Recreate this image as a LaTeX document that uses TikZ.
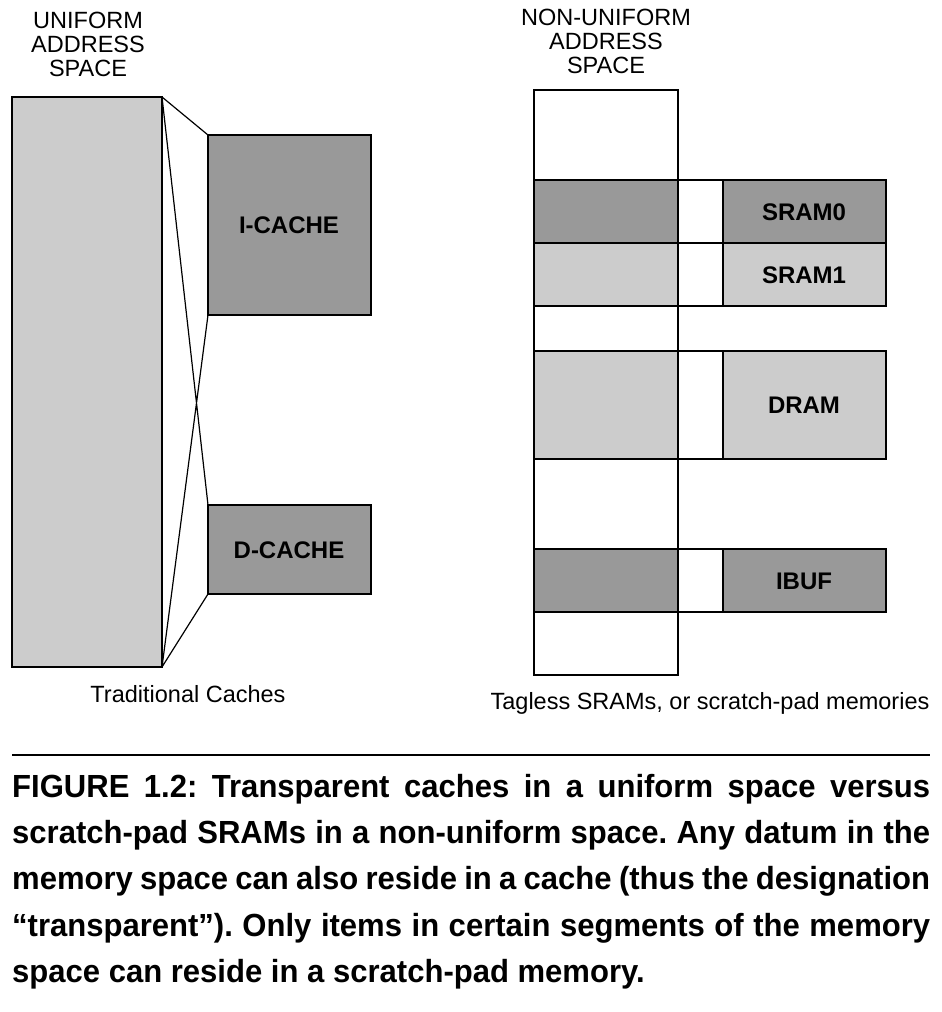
\documentclass[tikz,border=0pt]{standalone}
\usepackage{fontspec}
\setmainfont{Liberation Sans}
\newfontfamily\capfont[FakeStretch=0.97]{Liberation Sans}
\begin{document}
\frenchspacing
\begin{tikzpicture}[x=1pt,y=-1pt,
  box/.style={draw=black,line width=1.5pt},
  dk/.style={box,fill=black!40},
  lt/.style={box,fill=black!20},
  wt/.style={box,fill=white},
  lbl/.style={font=\fontsize{23.5}{24}\selectfont,align=center},
  blbl/.style={font=\fontsize{24}{24}\selectfont\bfseries}]
\useasboundingbox (0,0) rectangle (942,1012);
% left
\node[lbl] (uas) at (88,44) {UNIFORM\\ADDRESS\\SPACE};
\draw[lt] (12,97) rectangle (162,667);
\coordinate (ut) at (162,97); \coordinate (ub) at (162,667);
\draw[dk] (208,135) rectangle (371,315);
\draw[dk] (208,505) rectangle (371,594);
\node[blbl] (ic) at (289,225) {I-CACHE};
\node[blbl] (dc) at (289,550) {D-CACHE};
\coordinate (it) at (208,135); \coordinate (ib) at (208,315);
\coordinate (dt) at (208,505); \coordinate (db) at (208,594);
\draw[line width=1.2pt] (ut) -- (it) (ut) -- (dt) (ub) -- (ib) (ub) -- (db);
\node[lbl] (tc) at (188,694) {Traditional Caches};
% right
\node[lbl] (nuas) at (606,41) {NON-UNIFORM\\ADDRESS\\SPACE};
\draw[wt] (534,90) rectangle (678,675);
\foreach \a/\b/\s in {180/243/dk,243/306/lt,351/459/lt,549/612/dk}{
  \draw[\s] (534,\a) rectangle (678,\b);
  \draw[wt] (678,\a) rectangle (723,\b);
  \draw[\s] (723,\a) rectangle (886,\b);
}
\node[blbl] (s0) at (804,212) {SRAM0};
\node[blbl] (s1) at (804,275) {SRAM1};
\node[blbl] (dr) at (804,405) {DRAM};
\node[blbl] (ib2) at (804,581) {IBUF};
\node[lbl] (ts) at (710,703) {Tagless SRAMs, or scratch-pad memories};
% caption
\draw[line width=1.2pt] (12,755) -- (930,755);
\node[anchor=north west,inner sep=0pt,text width=918pt,align=justify,
  font=\capfont\bfseries\fontsize{32}{46.3}\selectfont] (cap) at (12,774)
{FIGURE 1.2: Transparent caches in a uniform space versus\linebreak
scratch-pad SRAMs in a non-uniform space. Any datum in the\linebreak
memory space can also reside in a cache (thus the designation\linebreak
“transparent”). Only items in certain segments of the memory\linebreak
space can reside in a scratch-pad memory.};
\end{tikzpicture}
\end{document}
